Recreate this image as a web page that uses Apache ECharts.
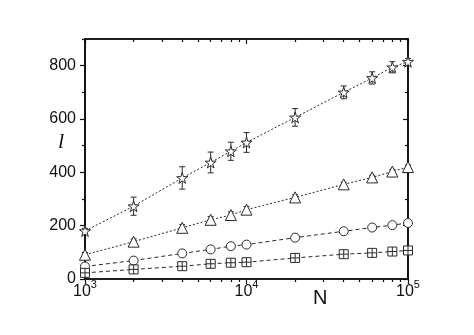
<!DOCTYPE html>
<html><head><meta charset="utf-8">
<script src="https://cdn.jsdelivr.net/npm/echarts@6/dist/echarts.min.js"></script>
<style>html,body{margin:0;padding:0;background:#fff}#c{width:474px;height:335px}</style>
</head><body><div id="c"></div>
<script>
var N = [1000, 2000, 4000, 6000, 8000, 10000, 20000, 40000, 60000, 80000, 100000];
var starVals = [180, 273, 379, 437, 479, 512, 606, 700, 754, 794, 815];
var starErr  = [10, 34, 42, 39, 34, 37, 33, 24, 23, 21, 12];
var triVals  = [91, 140, 192, 222, 240, 260, 306, 355, 381, 403, 420];
var triErr   = [8, 10, 12, 12, 12, 12, 10, 8, 8, 8, 8];
var circVals = [47, 69, 96, 111, 123, 129, 155, 179, 193, 202, 210];
var sqVals   = [23, 36, 48, 57, 61, 63, 79, 93, 98, 103, 107];
var xMajor = [1000, 10000, 100000];
var xMinor = [2000,3000,4000,5000,6000,7000,8000,9000,20000,30000,40000,50000,60000,70000,80000,90000];
var yMajor = [0, 200, 400, 600, 800];
var yMinor = [100, 300, 500, 700, 900];

var C = '#2a2a2a';
function pairs(v){ return N.map(function(n,i){ return [n, v[i]]; }); }
function errData(v, e){ return N.map(function(n,i){ return [n, v[i]-e[i], v[i]+e[i]]; }); }

var STAR = 'path://M50,0 L61,35 L98,35 L68,57 L79,91 L50,70 L21,91 L32,57 L2,35 L39,35 Z';
var SQX = 'path://M0,0L10,0L10,10L0,10Z M5,0L5,10 M0,5L10,5';

function errSeries(v, e){
  return {
    type: 'custom', xAxisIndex: 0, yAxisIndex: 0, z: 1, clip: false,
    data: errData(v, e),
    renderItem: function(params, api){
      var x = api.value(0);
      var lo = api.coord([x, api.value(1)]);
      var hi = api.coord([x, api.value(2)]);
      var w = 3;
      var st = {stroke: C, lineWidth: 1};
      return {type: 'group', children: [
        {type:'line', shape:{x1:lo[0], y1:lo[1], x2:hi[0], y2:hi[1]}, style: st},
        {type:'line', shape:{x1:lo[0]-w, y1:lo[1], x2:lo[0]+w, y2:lo[1]}, style: st},
        {type:'line', shape:{x1:hi[0]-w, y1:hi[1], x2:hi[0]+w, y2:hi[1]}, style: st}
      ]};
    }
  };
}
function lineSeries(v, sym, size, dash){
  return {
    type: 'line', xAxisIndex: 0, yAxisIndex: 0, z: 3,
    data: pairs(v), symbol: sym, symbolSize: size, showAllSymbol: true,
    lineStyle: {color: C, width: 1, type: dash},
    itemStyle: {color: '#fff', borderColor: C, borderWidth: 1},
    emphasis: {disabled: true}
  };
}

var grid = {left: 85, top: 39, width: 323, height: 240};
var axLine = {show: true, onZero: false, lineStyle: {color: '#111', width: 1.7}};
function xAx(pos, ticks, len, inside, labels){
  return {
    type: 'log', logBase: 10, min: 1000, max: 100000, position: pos, gridIndex: 0,
    axisLine: axLine,
    axisTick: {show: true, customValues: ticks, length: len, inside: inside, lineStyle: {color: '#111', width: 1.2}},
    axisLabel: labels ? {
      show: true, customValues: xMajor, margin: 0,
      formatter: function(v){ return '{b|10}{s|' + Math.round(Math.log10(v)) + '}'; },
      rich: {b: {fontSize: 16, lineHeight: 21, verticalAlign: 'bottom', color: '#111', fontFamily: 'Liberation Sans, Arial'},
             s: {fontSize: 11, lineHeight: 11, verticalAlign: 'top', color: '#111', fontFamily: 'Liberation Sans, Arial'}}
    } : {show: false},
    splitLine: {show: false}
  };
}
function yAx(pos, ticks, len, inside, labels){
  return {
    type: 'value', min: 0, max: 900, position: pos, gridIndex: 0,
    axisLine: axLine,
    axisTick: {show: true, customValues: ticks, length: len, inside: inside, lineStyle: {color: '#111', width: 1.2}},
    axisLabel: labels ? {show: true, customValues: yMajor, margin: 9, fontSize: 16, color: '#111', fontFamily: 'Liberation Sans, Arial'} : {show: false},
    splitLine: {show: false}
  };
}

var option = {
  backgroundColor: '#fff',
  animation: false,
  grid: grid,
  xAxis: [
    xAx('bottom', xMajor, 5, false, true),
    xAx('bottom', xMinor, 3, false, false),
    xAx('top', xMajor, 5, true, false),
    xAx('top', xMinor, 3, true, false)
  ],
  yAxis: [
    yAx('left', yMajor, 5, false, true),
    yAx('left', yMinor, 3, false, false),
    yAx('right', yMajor, 5, true, false),
    yAx('right', yMinor, 3, true, false)
  ],
  graphic: [
    {type: 'text', left: 58, top: 131, style: {text: 'l', font: 'italic 22px "Liberation Serif", "Times New Roman", serif', fill: '#111'}},
    {type: 'text', left: 313, top: 288, style: {text: 'N', font: '20px "Liberation Sans", Arial, sans-serif', fill: '#111'}}
  ],
  series: [
    errSeries(starVals, starErr),
    errSeries(triVals, triErr),
    lineSeries(starVals, STAR, 11, [2, 2]),
    lineSeries(triVals, 'triangle', 11, [2, 2]),
    lineSeries(circVals, 'circle', 9, [4, 3]),
    lineSeries(sqVals, SQX, 9, [4, 3])
  ]
};
var chart = echarts.init(document.getElementById('c'), null, {renderer: 'canvas'});
chart.setOption(option);
</script></body></html>
